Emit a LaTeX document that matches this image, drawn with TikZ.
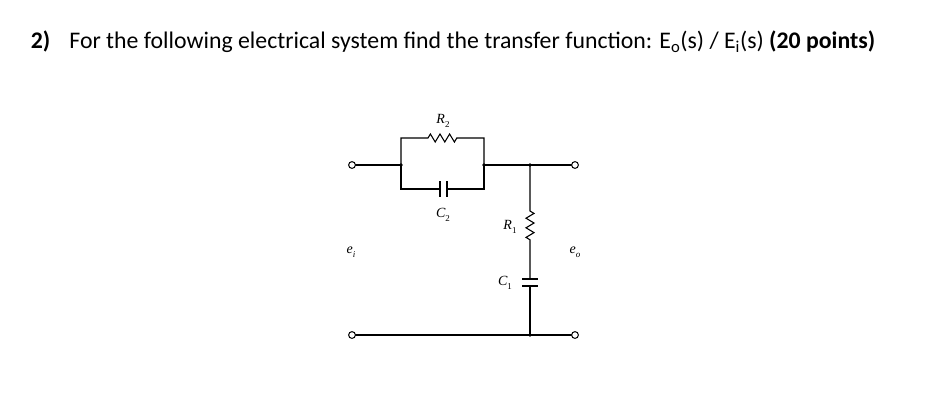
\documentclass[tikz,border=0pt]{standalone}
\usepackage{fontspec}
\setmainfont{Carlito}
\newfontfamily\lbl{Liberation Serif}
\newcommand{\lsub}[2]{\textit{#1}\raisebox{-0.25em}{\fontsize{9}{9}\selectfont\upshape #2}}
\begin{document}
\begin{tikzpicture}[x=1pt,y=-1pt,line width=1.1pt,
  dot/.style={circle,fill,inner sep=1.3pt},
  term/.style={circle,draw,fill=white,inner sep=2.4pt,line width=1pt},
  lab/.style={font=\lbl\fontsize{14}{14}\selectfont}]
\useasboundingbox (0,0) rectangle (928,415);
\node[anchor=west,font=\fontsize{23.8}{26}\selectfont] (title) at (27,42) {\textbf{2)}\hspace{0.8em}For the following electrical system find the transfer function: E\textsubscript{o}(s) / E\textsubscript{i}(s) \textbf{(20 points)}};
\coordinate (ti) at (352,165); \coordinate (tib) at (352,335);
\coordinate (to) at (575,165); \coordinate (tob) at (575,335);
\coordinate (A) at (401,165); \coordinate (B) at (484,165);
\coordinate (J) at (530,165); \coordinate (K) at (530,335);
% R2 branch
\draw (A) -- (401,138) -- (428,138) -- ++(2.4,-4) -- ++(4.8,8) -- ++(4.8,-8) -- ++(4.8,8) -- ++(4.8,-8) -- ++(4.8,8) -- ++(2.4,-4) -- (484,138) -- (B);
% C2 branch
\draw (A) -- (401,189) -- (440,189) (447,189) -- (484,189) -- (B);
\draw (440,181) -- (440,197) (447,181) -- (447,197);
\draw (ti) -- (A);
\draw (B) -- (J) -- (to);
\draw (tib) -- (K) -- (tob);
% R1, C1
\draw (J) -- (530,211) -- ++(4,2.4) -- ++(-8,4.8) -- ++(8,4.8) -- ++(-8,4.8) -- ++(8,4.8) -- ++(-8,4.8) -- ++(4,2.4) -- (530,279);
\draw (522,279) -- (538,279) (522,286) -- (538,286);
\draw (530,286) -- (K);
\node[dot] (dA) at (A) {}; \node[dot] (dB) at (B) {};
\node[dot] (dJ) at (J) {}; \node[dot] (dK) at (K) {};
\node[term] (Ti) at (ti) {}; \node[term] (Tib) at (tib) {};
\node[term] (To) at (to) {}; \node[term] (Tob) at (tob) {};
\node[lab] (R2) at (443,121) {\lsub{R}{2}};
\node[lab] (C2) at (443,215) {\lsub{C}{2}};
\node[lab] (R1) at (510,227) {\lsub{R}{1}};
\node[lab] (C1) at (505,283) {\lsub{C}{1}};
\node[lab] (ei) at (351,252) {\lsub{e}{\itshape i}};
\node[lab] (eo) at (575,252) {\lsub{e}{\itshape o}};
\end{tikzpicture}
\end{document}
